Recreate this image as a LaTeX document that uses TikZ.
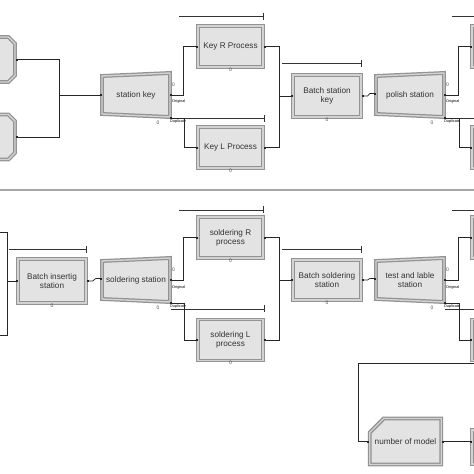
\documentclass[tikz,border=0pt]{standalone}
\usepackage{fontspec}
\setmainfont{Liberation Sans}
\usetikzlibrary{arrows.meta,shapes.misc}

\tikzset{
  modframe/.style={draw=gray!85, double=gray!35, double distance=1.4pt, line width=1.25pt, fill=gray!22},
  module/.style={modframe, rectangle, inner sep=1pt, align=center, text=black!80, font=\fontsize{8.2}{9}\selectfont},
  proc/.style={module, minimum width=65pt, minimum height=41pt},
  batch/.style={module, minimum width=68pt, minimum height=42pt},
  create/.style={modframe, chamfered rectangle, chamfered rectangle sep=7pt, minimum width=50pt, minimum height=45pt},
  assign/.style={modframe, chamfered rectangle, chamfered rectangle corners=north west, chamfered rectangle xsep=13pt,
    chamfered rectangle ysep=10pt, minimum width=67pt, minimum height=46pt, inner sep=1pt, text=black!80,
    font=\fontsize{8.2}{9}\selectfont},
  septext/.style={rectangle, minimum width=68pt, minimum height=40pt, inner sep=0pt, align=center, text=black!80, font=\fontsize{8.2}{9}\selectfont},
  zero/.style={font=\fontsize{5}{5}\selectfont, text=black!70, inner sep=0pt},
  zerolab/.style={label distance=2.5pt, label={[zero]below:0}},
  tag/.style={font=\fontsize{3.8}{4}\selectfont, inner sep=0pt, anchor=west},
  conn/.style={draw=black!85, line width=0.7pt, {Square[length=1.8pt,width=1.8pt]}-{Square[length=1.8pt,width=1.8pt]}},
  queue/.style={draw=black!80, line width=0.7pt, -{Bar[width=7pt]}},
}

% module Separate : cadre en trapeze puis texte nomme
\newcommand{\sepmod}[4]{%
  \filldraw[modframe] (#2-34,#3-19) -- (#2+34,#3-22) -- (#2+34,#3+22) -- (#2-34,#3+19) -- cycle;
  \node[septext] (#1) at (#2,#3) {#4};
}

\begin{document}
\begin{tikzpicture}[x=1pt, y=-1pt]
    \useasboundingbox (0,0) rectangle (474,474);
    \clip (0,0) rectangle (474,474);

    % separation des deux lignes
    \draw[gray!70, line width=1.8pt] (0,190) -- (474,190);

    % ligne du haut
    \node[create] (cr1) at (-10,59.5) {};
    \node[create] (cr2) at (-10,137) {};
    \sepmod{sk}{136}{95}{station key}
    \node[proc, zerolab] (kr) at (230.5,46.5) {Key R Process};
    \node[proc, zerolab] (kl) at (230.5,147.5) {Key L Process};
    \node[batch, zerolab] (bsk) at (327,96) {Batch station\\key};
    \sepmod{ps}{410}{95}{polish station}
    \node[proc] (rA) at (504.5,46.5) {};
    \node[proc] (rB) at (504.5,147.5) {};

    % ligne du bas
    \coordinate (inA) at (-6,232);
    \coordinate (inB) at (-6,335);
    \node[batch, minimum height=44pt, zerolab] (bi) at (52,281) {Batch insertig\\station};
    \sepmod{ss}{136}{280}{soldering station}
    \node[proc, zerolab] (srp) at (230.5,237.5) {soldering R\\process};
    \node[proc, zerolab] (slp) at (230.5,340) {soldering L\\process};
    \node[batch, minimum height=40pt, zerolab] (bss) at (327,280) {Batch soldering\\station};
    \sepmod{tl}{410}{280}{test and lable\\station}
    \node[proc] (rC) at (504.5,237.5) {};
    \node[proc] (rD) at (504.5,340) {};
    \coordinate (loopsrc) at (490,363);
    \node[assign] (nm) at (405.5,441.5) {number of model};
    \node[proc, minimum height=34pt] (rE) at (504.5,447) {};

    % compteurs et sorties des modules Separate
    \node[zero] at (173.5,85) {0};
    \node[zero] at (158,123) {0};
    \node[tag] at (172,102) {Original};
    \node[tag] at (170,122) {Duplicate};
    \node[zero] at (447.5,85) {0};
    \node[zero] at (432,123) {0};
    \node[tag] at (446,102) {Original};
    \node[tag] at (444,122) {Duplicate};
    \node[zero] at (173.5,270) {0};
    \node[zero] at (158,308) {0};
    \node[tag] at (172,288) {Original};
    \node[tag] at (170,307) {Duplicate};
    \node[zero] at (447.5,270) {0};
    \node[zero] at (432,308) {0};
    \node[tag] at (446,288) {Original};
    \node[tag] at (444,307) {Duplicate};

    % files d'attente
    \draw[queue] ([xshift=-18pt,yshift=9pt]kr.north west) -- ([yshift=9pt]kr.north east);
    \draw[queue] ([xshift=-26pt,yshift=8pt]kl.north west) -- ([xshift=1pt,yshift=8pt]kl.north east);
    \draw[queue] ([xshift=-10pt,yshift=11pt]bsk.north west) -- ([yshift=11pt]bsk.north east);
    \draw[queue] ([xshift=-19pt,yshift=9pt]rA.north west) -- ([yshift=9pt]rA.north east);
    \draw[queue] ([xshift=-26pt,yshift=8pt]rB.north west) -- ([yshift=8pt]rB.north east);
    \draw[queue] ([xshift=-8pt,yshift=9pt]bi.north west) -- ([yshift=9pt]bi.north east);
    \draw[queue] ([xshift=-18pt,yshift=6.5pt]srp.north west) -- ([yshift=6.5pt]srp.north east);
    \draw[queue] ([xshift=-26pt,yshift=10pt]slp.north west) -- ([xshift=1pt,yshift=10pt]slp.north east);
    \draw[queue] ([xshift=-10pt,yshift=10pt]bss.north west) -- ([yshift=10pt]bss.north east);
    \draw[queue] ([xshift=-19pt,yshift=6.5pt]rC.north west) -- ([yshift=6.5pt]rC.north east);
    \draw[queue] ([xshift=-26pt,yshift=10pt]rD.north west) -- ([yshift=10pt]rD.north east);

    % connecteurs du haut
    \draw[conn] (cr1.east) -- ++(44,0) |- (sk.west);
    \draw[conn] (cr2.east) -- ++(44,0) |- (sk.west);
    \draw[conn] (sk.east) -- ++(13,0) |- (kr.west);
    \draw[conn] ([yshift=-3pt]sk.south east) -- ++(14,0) |- (kl.west);
    \draw[conn] (kr.east) -- ++(16,0) |- (bsk.west);
    \draw[conn] (kl.east) -- ++(16,0) |- (bsk.west);
    \draw[conn] (bsk.east) -- ++(6,0) -- ([xshift=-6pt,yshift=1.5pt]ps.west) -- ([yshift=1.5pt]ps.west);
    \draw[conn] (ps.east) -- ++(14,0) |- (rA.west);
    \draw[conn] ([yshift=-3pt]ps.south east) -- ++(15,0) |- (rB.west);

    % connecteurs du bas
    \draw[conn] (inA) -- ++(13,0) |- (bi.west);
    \draw[conn] (inB) -- ++(13,0) |- (bi.west);
    \draw[conn] (bi.east) -- ++(6,0) -- ([xshift=-6pt,yshift=1.5pt]ss.west) -- ([yshift=1.5pt]ss.west);
    \draw[conn] (ss.east) -- ++(13,0) |- (srp.west);
    \draw[conn] ([yshift=-3pt]ss.south east) -- ++(14,0) |- (slp.west);
    \draw[conn] (srp.east) -- ++(16,0) |- (bss.west);
    \draw[conn] (slp.east) -- ++(16,0) |- (bss.west);
    \draw[conn] (bss.east) -- ++(6,0) -- ([xshift=-6pt,yshift=1.5pt]tl.west) -- ([yshift=1.5pt]tl.west);
    \draw[conn] (tl.east) -- ++(14,0) |- (rC.west);
    \draw[conn] ([yshift=-3pt]tl.south east) -- ++(15,0) |- (rD.west);
    \draw[conn] (loopsrc) -- ++(-132,0) |- (nm.west);
    \draw[conn] (nm.east) -- (nm.east -| rE.west);
\end{tikzpicture}
\end{document}
